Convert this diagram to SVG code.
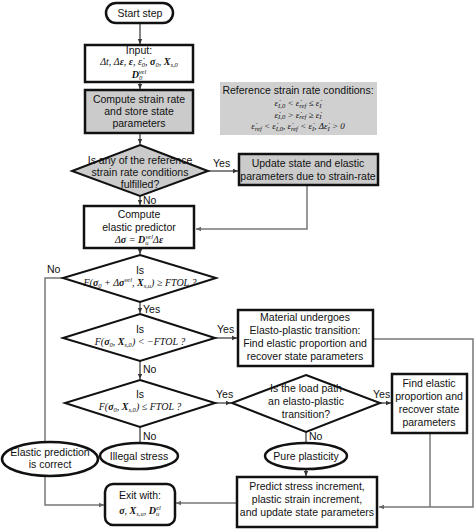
<svg xmlns="http://www.w3.org/2000/svg" width="474" height="530" viewBox="0 0 474 530">
<defs>
<marker id="ah" markerWidth="6" markerHeight="6" refX="5" refY="3" orient="auto" markerUnits="userSpaceOnUse">
<path d="M0,0.8 L5,3 L0,5.2 Z" fill="#333"/>
</marker>
<marker id="ahg" markerWidth="6" markerHeight="6" refX="5" refY="3" orient="auto" markerUnits="userSpaceOnUse">
<path d="M0,0.8 L5,3 L0,5.2 Z" fill="#666"/>
</marker>
<style>
text{font-family:"Liberation Sans",Arial,sans-serif;font-size:10.5px;fill:#111;text-anchor:middle}
.m{font-family:"Liberation Serif","Times New Roman",serif;font-style:italic;font-size:10px}
.r{font-size:9px}
.b{font-weight:bold}
.s{font-size:6.5px}
.lbl{text-anchor:start}
.box{fill:#fff;stroke:#111;stroke-width:2.5}
.gbox{fill:#cbcbcb;stroke:#111;stroke-width:2.5}
.dia{fill:#fff;stroke:#111;stroke-width:2}
.gdia{fill:#cbcbcb;stroke:#111;stroke-width:2}
.c{fill:none;stroke:#333;stroke-width:1.2}
.cg{fill:none;stroke:#777;stroke-width:1.5}
</style>
</defs>

<g id="connectors">
<path class="c" d="M140,23 V44" marker-end="url(#ah)"/>
<path class="c" d="M140,82 V89" marker-end="url(#ah)"/>
<path class="c" d="M140,133 V144" marker-end="url(#ah)"/>
<path class="c" d="M208,171 H238" marker-end="url(#ah)"/>
<path class="cg" d="M307,185 V229 H196" marker-end="url(#ahg)"/>
<path class="c" d="M140,196 V205" marker-end="url(#ah)"/>
<path class="c" d="M140,248 V254" marker-end="url(#ah)"/>
<path class="cg" d="M63,278 H45 V442"/>
<path class="c" d="M140,302 V313" marker-end="url(#ah)"/>
<path class="c" d="M215,338 H237" marker-end="url(#ah)"/>
<path class="cg" d="M373,339 H473 V507 H379" marker-end="url(#ahg)"/>
<path class="c" d="M140,361 V379" marker-end="url(#ah)"/>
<path class="c" d="M215,403 H231" marker-end="url(#ah)"/>
<path class="c" d="M380,403 H391" marker-end="url(#ah)"/>
<path class="cg" d="M430,433 V507"/>
<path class="c" d="M306,432 V443"/>
<path class="c" d="M306,469 V476" marker-end="url(#ah)"/>
<path class="c" d="M140,427 V444"/>
<path class="cg" d="M237,503 H176" marker-end="url(#ahg)"/>
<path class="cg" d="M45,476 V505 H104" marker-end="url(#ahg)"/>
<text class="lbl" x="213" y="167">Yes</text>
<text class="lbl" x="143" y="204">No</text>
<text class="lbl" x="47" y="273">No</text>
<text class="lbl" x="143" y="313">Yes</text>
<text class="lbl" x="217" y="333">Yes</text>
<text class="lbl" x="143" y="373">No</text>
<text class="lbl" x="216" y="398">Yes</text>
<text class="lbl" x="373" y="398">Yes</text>
<text class="lbl" x="309" y="440">No</text>
<text class="lbl" x="143" y="440">No</text>
</g>

<g id="start">
<rect x="106" y="3" width="67" height="20" rx="10" class="box"/>
<text x="140" y="17">Start step</text>
</g>

<g id="input">
<rect x="85" y="45" width="108" height="37" class="box"/>
<text x="139" y="54">Input:</text>
<text class="m" x="139" y="65">Δ<tspan>t</tspan>, Δ<tspan class="b">ε</tspan>, <tspan class="b">ε</tspan>, ε̇<tspan class="s" dy="2">0</tspan><tspan dy="-2">, </tspan><tspan class="b">σ</tspan><tspan class="s" dy="2">0</tspan><tspan dy="-2">, </tspan><tspan class="b">X</tspan><tspan class="s" dy="2">s,0</tspan></text>
<text class="m" x="139" y="78"><tspan class="b">D</tspan><tspan class="s" dy="2">0</tspan><tspan class="s" dx="-3.5" dy="-6">vel</tspan></text>
</g>

<g id="strainrate">
<rect x="85" y="90" width="108" height="43" class="gbox"/>
<text x="139" y="103">Compute strain rate</text>
<text x="139" y="115">and store state</text>
<text x="139" y="127">parameters</text>
</g>

<g id="refconditions">
<rect x="220" y="82" width="157" height="53" fill="#d0d0d0"/>
<text x="298" y="94">Reference strain rate conditions:</text>
<text class="m r" x="298" y="106">ε̇<tspan class="s" dy="1.5">I,0</tspan><tspan dy="-1.5"> &lt; ε̇</tspan><tspan class="s" dy="1.5">ref</tspan><tspan dy="-1.5"> ≤ ε̇</tspan><tspan class="s" dy="1.5">I</tspan></text>
<text class="m r" x="298" y="117.5">ε̇<tspan class="s" dy="1.5">I,0</tspan><tspan dy="-1.5"> &gt; ε̇</tspan><tspan class="s" dy="1.5">ref</tspan><tspan dy="-1.5"> ≥ ε̇</tspan><tspan class="s" dy="1.5">I</tspan></text>
<text class="m r" x="298" y="129">ε̇<tspan class="s" dy="1.5">ref</tspan><tspan dy="-1.5"> &lt; ε̇</tspan><tspan class="s" dy="1.5">I,0</tspan><tspan dy="-1.5">, ε̇</tspan><tspan class="s" dy="1.5">ref</tspan><tspan dy="-1.5"> &lt; ε̇</tspan><tspan class="s" dy="1.5">I</tspan><tspan dy="-1.5">, Δε̇</tspan><tspan class="s" dy="1.5">I</tspan><tspan dy="-1.5"> &gt; 0</tspan></text>
</g>

<g id="decision1">
<polygon points="140,145 208,171 140,196 72,171" class="gdia"/>
<text x="140" y="164">Is any of the reference</text>
<text x="140" y="176">strain rate conditions</text>
<text x="140" y="188">fulfilled?</text>
</g>

<g id="update">
<rect x="239" y="154" width="139" height="31" class="gbox"/>
<text x="308" y="167">Update state and elastic</text>
<text x="308" y="180">parameters due to strain-rate</text>
</g>

<g id="elasticpredictor">
<rect x="84" y="206" width="110" height="42" class="box"/>
<text x="139" y="218">Compute</text>
<text x="139" y="231">elastic predictor</text>
<text class="m" x="139" y="243">Δ<tspan class="b">σ</tspan> = <tspan class="b">D</tspan><tspan class="s" dy="2">u</tspan><tspan class="s" dx="-3" dy="-6">vel</tspan><tspan dy="4">Δ</tspan><tspan class="b">ε</tspan></text>
</g>

<g id="decision2">
<polygon points="140,255 216,278 140,302 63,278" class="dia"/>
<text x="140" y="274">Is</text>
<text class="m" x="140" y="286">F(<tspan class="b">σ</tspan><tspan class="s" dy="2">0</tspan><tspan dy="-2"> + Δ</tspan><tspan class="b">σ</tspan><tspan class="s" dy="-4">vel</tspan><tspan dy="4">, </tspan><tspan class="b">X</tspan><tspan class="s" dy="2">s,u</tspan><tspan dy="-2">) ≥ FTOL ?</tspan></text>
</g>

<g id="decision3">
<polygon points="140,314 215,338 140,361 63,338" class="dia"/>
<text x="140" y="333">Is</text>
<text class="m" x="140" y="345">F(<tspan class="b">σ</tspan><tspan class="s" dy="2">0</tspan><tspan dy="-2">, </tspan><tspan class="b">X</tspan><tspan class="s" dy="2">s,0</tspan><tspan dy="-2">) &lt; −FTOL ?</tspan></text>
</g>

<g id="transition">
<rect x="238" y="310" width="135" height="56" class="box"/>
<text x="305" y="321">Material undergoes</text>
<text x="305" y="334">Elasto-plastic transition:</text>
<text x="305" y="347">Find elastic proportion and</text>
<text x="305" y="360">recover state parameters</text>
</g>

<g id="decision4">
<polygon points="140,380 215,403 140,427 65,403" class="dia"/>
<text x="140" y="398">Is</text>
<text class="m" x="140" y="410">F(<tspan class="b">σ</tspan><tspan class="s" dy="2">0</tspan><tspan dy="-2">, </tspan><tspan class="b">X</tspan><tspan class="s" dy="2">s,0</tspan><tspan dy="-2">) ≤ FTOL ?</tspan></text>
</g>

<g id="decision5">
<polygon points="306,375 380,403 306,432 232,403" class="dia"/>
<text x="306" y="392">Is the load path</text>
<text x="306" y="405">an elasto-plastic</text>
<text x="306" y="418">transition?</text>
</g>

<g id="findelastic">
<rect x="392" y="374" width="75" height="59" class="box"/>
<text x="429" y="387">Find elastic</text>
<text x="429" y="400">proportion and</text>
<text x="429" y="413">recover state</text>
<text x="429" y="426">parameters</text>
</g>

<g id="elasticcorrect">
<ellipse cx="50" cy="459" rx="48" ry="17" class="box"/>
<text x="50" y="456">Elastic prediction</text>
<text x="50" y="468">is correct</text>
</g>

<g id="illegal">
<ellipse cx="139" cy="456" rx="39" ry="13" class="box"/>
<text x="139" y="460">Illegal stress</text>
</g>

<g id="pureplasticity">
<ellipse cx="306" cy="456" rx="41" ry="13" class="box"/>
<text x="306" y="460">Pure plasticity</text>
</g>

<g id="predict">
<rect x="237" y="477" width="140" height="50" class="box"/>
<text x="307" y="490">Predict stress increment,</text>
<text x="307" y="503">plastic strain increment,</text>
<text x="307" y="516">and update state parameters</text>
</g>

<g id="exit">
<rect x="105" y="484" width="70" height="41" rx="8" class="box"/>
<text x="140" y="499">Exit with:</text>
<text class="m" x="140" y="514"><tspan class="b">σ</tspan>, <tspan class="b">X</tspan><tspan class="s" dy="2">s,u</tspan><tspan dy="-2">, </tspan><tspan class="b">D</tspan><tspan class="s" dy="2">u</tspan><tspan class="s" dx="-3" dy="-6">el</tspan></text>
</g>
</svg>
